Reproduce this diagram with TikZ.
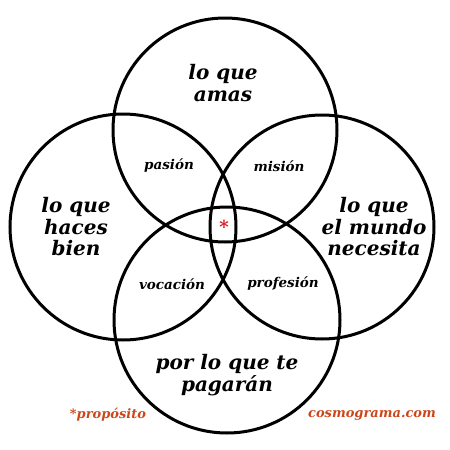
\documentclass[tikz,border=0pt]{standalone}
\usepackage{fontspec}
\setmainfont{DejaVu Serif}
\usepackage{tikz}
\definecolor{footred}{RGB}{204,70,26}
\definecolor{starred}{RGB}{222,24,36}
\tikzset{ring/.style={line width=3pt},
	bigtext/.style={font=\fontsize{20}{21.5}\selectfont\bfseries\itshape, align=center, inner sep=0pt},
	smalltext/.style={font=\fontsize{13.5}{14}\selectfont\bfseries\itshape, inner sep=0pt},
	foottext/.style={footred, font=\fontsize{13}{14}\selectfont\bfseries\itshape, inner sep=0pt}}

\begin{document}
\begin{tikzpicture}[x=1pt,y=-1pt]
		\useasboundingbox (0,0) rectangle (450,450);
		
		\coordinate (amas) at (225,130);
		\coordinate (bien) at (123,227);
		\coordinate (mundo) at (322,227);
		\coordinate (pagan) at (227,320);
		
		\draw[ring] (amas) circle (112);
		\draw[ring] (bien) circle (113);
		\draw[ring] (mundo) circle (112);
		\draw[ring] (pagan) circle (113);
		
		\node[bigtext] (lamas) at (223,83) {lo que\\amas};
		\node[bigtext] (lbien) at (76,227) {lo que\\haces\\bien};
		\node[bigtext] (lmundo) at (374,227) {lo que\\el mundo\\necesita};
		\node[bigtext] (lpagan) at (227,375) {por lo que te\\pagar\'an};
		
		\node[smalltext] (pasion) at (169,166) {pasi\'on};
		\node[smalltext] (mision) at (279,166) {misi\'on};
		\node[smalltext] (vocacion) at (172,284) {vocaci\'on};
		\node[smalltext] (profesion) at (283,284) {profesi\'on};
		
		\node[starred, font=\fontsize{18}{18}\selectfont\bfseries] (star) at (224,227) {*};
		
		\node[foottext] (proposito) at (108,415) {*prop\'osito};
		\node[foottext] (cosmo) at (372,415) {cosmograma.com};
	\end{tikzpicture}
\end{document}
